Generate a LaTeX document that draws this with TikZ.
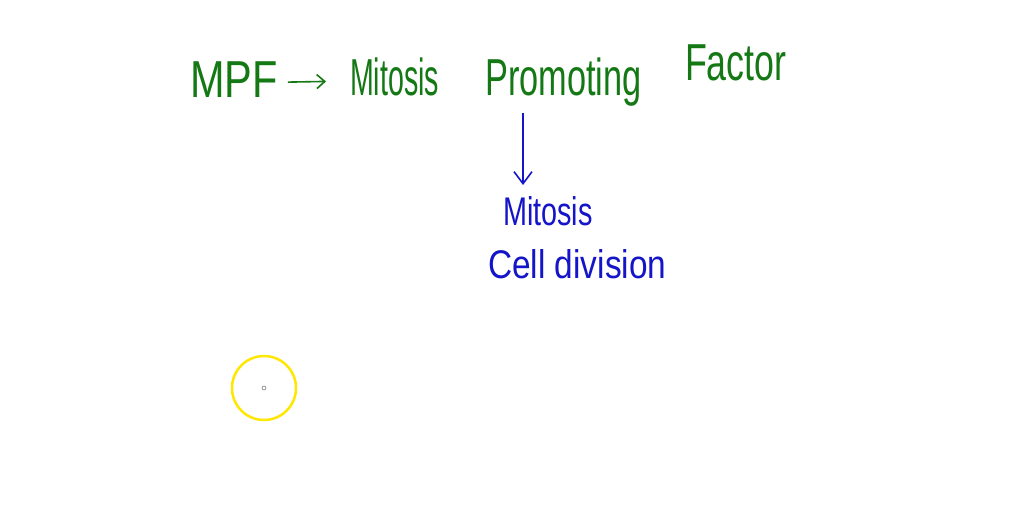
\documentclass[tikz,border=0pt]{standalone}
\usepackage{fontspec}
\setmainfont{Liberation Sans}
\usetikzlibrary{arrows.meta}
\definecolor{grn}{RGB}{20,120,20}
\definecolor{blu}{RGB}{20,20,200}
\begin{document}
\begin{tikzpicture}[x=1pt,y=-1pt,
  gw/.style={text=grn,font=\fontsize{52}{60}\selectfont,xscale=0.55,transform shape,inner sep=0,anchor=base west},
  bw/.style={text=blu,font=\fontsize{40}{48}\selectfont,xscale=0.72,transform shape,inner sep=0,anchor=base west}]
\useasboundingbox[fill=white] (0,0) rectangle (1024,504);
\node[gw,xscale=1.45] (mpf) at (190,97) {MPF};
\node[gw] (mit) at (350,95) {Mitosis};
\node[gw,xscale=1.2] (pro) at (485,95) {Promoting};
\node[gw,xscale=1.25] (fac) at (685,80) {Factor};
\draw[grn,line width=1.6pt,-{Straight Barb[length=8pt,width=14pt]}] ([xshift=10pt,yshift=-3pt]mpf.east) -- ([xshift=-24pt,yshift=-5pt]mit.west);
\node[bw] (m2) at (503,225) {Mitosis};
\node[bw,xscale=1.16] (cd) at (488,278) {Cell division};
\coordinate (a1) at (523,113);
\coordinate (a2) at (523,185);
\draw[blu,line width=1.6pt,-{Straight Barb[length=12pt,width=18pt]}] (a1) -- (a2);
\node[circle,draw=yellow!90!orange,line width=2.5pt,minimum size=64pt] (c) at (264,388) {};
\node[circle,draw=black!70,inner sep=0,minimum size=4pt] (d) at (c.center) {};
\end{tikzpicture}
\end{document}
